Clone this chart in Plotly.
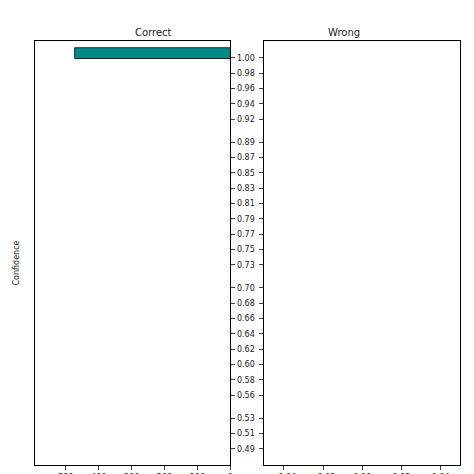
import plotly.graph_objects as go

conf_ticks = [1.00, 0.98, 0.96, 0.94, 0.92, 0.89, 0.87, 0.85, 0.83, 0.81, 0.79, 0.77,
              0.75, 0.73, 0.70, 0.68, 0.66, 0.64, 0.62, 0.60, 0.58, 0.56, 0.53, 0.51, 0.49]
correct_conf = [1.0]
correct_count = [473]
wrong_x_ticks = [-0.04, -0.02, 0.0, 0.02, 0.04]

fig = go.Figure()
fig.add_trace(go.Bar(x=correct_count, y=correct_conf, orientation="h", width=0.014, offset=-0.001,
                     marker=dict(color="#008b8b", line=dict(color="#222", width=1)),
                     xaxis="x", yaxis="y", showlegend=False))
fig.add_trace(go.Scatter(x=[], y=[], xaxis="x2", yaxis="y2", showlegend=False))

frame = dict(showline=True, linecolor="black", linewidth=1, mirror=True, showgrid=False,
             zeroline=False, ticks="outside", ticklen=4, tickfont=dict(size=8, color="#222"))
ydom = [0.013, 0.929]
fig.update_layout(
    width=474, height=474, margin=dict(l=0, r=0, t=0, b=0),
    plot_bgcolor="white", paper_bgcolor="white", font=dict(family="DejaVu Sans"),
    xaxis=dict(domain=[0.057, 0.472], range=[594, 0], tickvals=[500, 400, 300, 200, 100, 0], **frame),
    yaxis=dict(domain=ydom, range=[0.469, 1.022], side="right", tickvals=conf_ticks,
               tickformat=".2f", **frame),
    xaxis2=dict(domain=[0.544, 0.960], range=[-0.05, 0.05], tickvals=wrong_x_ticks,
                tickformat=".2f", **frame),
    yaxis2=dict(domain=ydom, range=[0.469, 1.022], anchor="x2", tickvals=conf_ticks,
                showticklabels=False, **frame),
    annotations=[
        dict(text="Correct", x=0.265, y=0.931, xref="paper", yref="paper", showarrow=False,
             yanchor="bottom", font=dict(size=10, color="#222")),
        dict(text="Wrong", x=0.752, y=0.931, xref="paper", yref="paper", showarrow=False,
             yanchor="bottom", font=dict(size=10, color="#222")),
        dict(text="Confidence", x=0.005, y=0.45, xref="paper", yref="paper", showarrow=False,
             textangle=-90, font=dict(size=8, color="#222")),
    ],
)
fig.write_html("out.html")
